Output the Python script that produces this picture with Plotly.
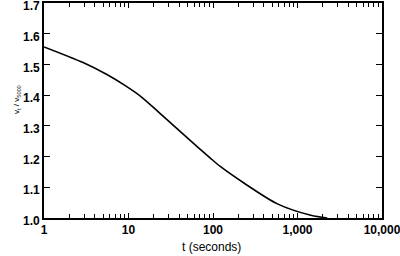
import plotly.graph_objects as go

t_seconds = [1, 2.9, 5.55, 9.15, 13.8, 22.7, 56.6, 93, 123, 232, 578, 1436, 2250]
ratio = [1.557, 1.506, 1.467, 1.431, 1.397, 1.345, 1.247, 1.195, 1.167, 1.114, 1.046, 1.009, 1.0]

x_tickvals = [1, 10, 100, 1000, 10000]
x_ticktext = ["1", "10", "100", "1,000", "10,000"]
y_tickvals = [1.0, 1.1, 1.2, 1.3, 1.4, 1.5, 1.6, 1.7]
y_ticktext = ["1.0", "1.1", "1.2", "1.3", "1.4", "1.5", "1.6", "1.7"]

fig = go.Figure()
fig.add_trace(go.Scatter(x=t_seconds, y=ratio, mode="lines",
                         line=dict(color="black", width=1.6, shape="spline", smoothing=0.8),
                         showlegend=False, hoverinfo="skip"))
fig.add_trace(go.Scatter(x=t_seconds, y=ratio, mode="lines", xaxis="x2",
                         line=dict(color="rgba(0,0,0,0)", width=0),
                         showlegend=False, hoverinfo="skip"))

tickfont = dict(family="Liberation Sans", size=12, color="black", weight="bold")
minor = dict(ticks="inside", ticklen=4, tickcolor="black", tickwidth=1, showgrid=False, dtick="D1")

fig.update_layout(
    width=400, height=256,
    margin=dict(l=44, r=18, t=3, b=38),
    paper_bgcolor="white", plot_bgcolor="white",
    xaxis=dict(type="log", range=[0, 4], tickvals=x_tickvals, ticktext=x_ticktext,
               ticks="inside", ticklen=5, tickwidth=1, tickcolor="black", minor=minor,
               showline=True, linecolor="black", linewidth=1.6, mirror=True,
               showgrid=False, zeroline=False, tickfont=tickfont, automargin=False,
               ticklabeloverflow="allow"),
    xaxis2=dict(type="log", range=[0, 4], overlaying="x", side="top",
                tickvals=x_tickvals, showticklabels=False,
                ticks="inside", ticklen=5, tickwidth=1, tickcolor="black", minor=minor,
                showline=False, showgrid=False, zeroline=False, automargin=False),
    yaxis=dict(range=[1.0, 1.7], tickvals=y_tickvals, ticktext=y_ticktext,
               ticks="inside", ticklen=6, tickwidth=1, tickcolor="black",
               showline=True, linecolor="black", linewidth=1.6, mirror="ticks",
               showgrid=False, zeroline=False, tickfont=tickfont, automargin=False,
               ticklabeloverflow="allow", ticklabelshift=3),
)

fig.add_annotation(text="t (seconds)", xref="paper", yref="paper",
                   x=0.495, y=-0.135, showarrow=False, yanchor="middle",
                   font=dict(family="Liberation Sans", size=12, color="black"))

fig.add_annotation(text="v<sub>t</sub> / v<sub>5000</sub>", xref="paper", yref="paper",
                   x=-0.1, y=0.55, showarrow=False, textangle=-90,
                   font=dict(family="Liberation Sans", size=8, color="black"))

fig.write_html("out.html", config={"displayModeBar": False},
               post_script="document.body.style.margin='0';document.body.style.overflow='hidden';")
